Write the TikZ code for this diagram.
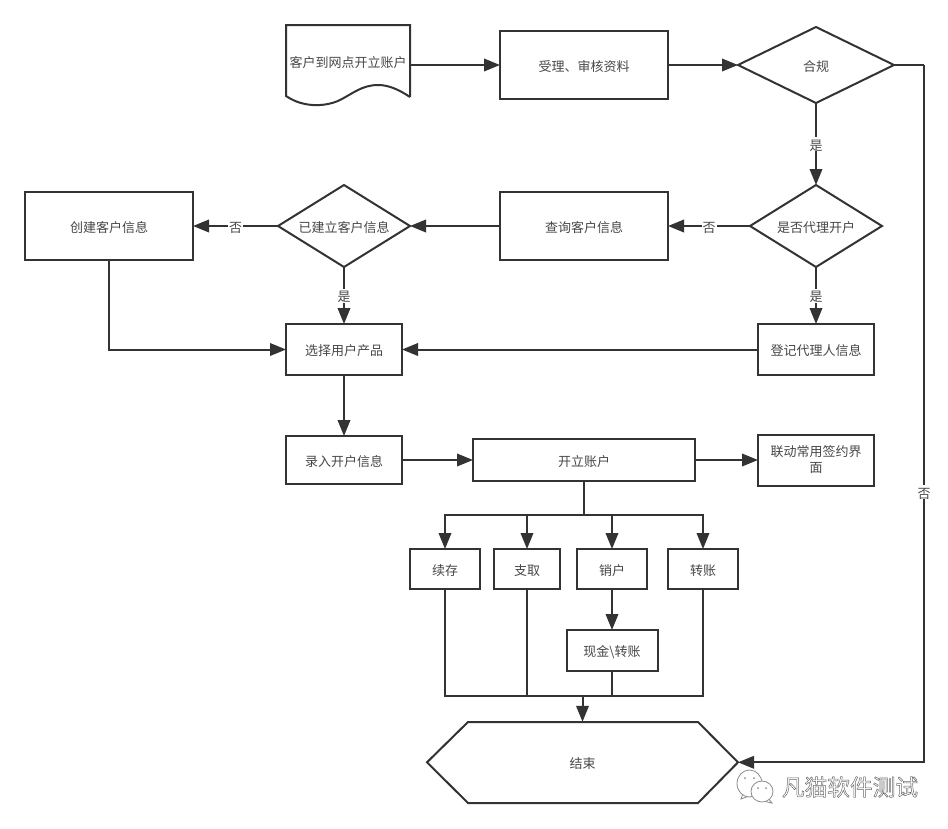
\documentclass[tikz,border=0pt]{standalone}
\usepackage{fontspec}
\setmainfont{Noto Sans CJK SC}
\usetikzlibrary{arrows.meta,shapes.geometric}
\definecolor{ink}{HTML}{333333}
\tikzset{
  x=1pt,y=-1pt,
  every node/.style={font=\fontsize{13}{16}\selectfont,text=ink!90!white,inner sep=0pt,outer sep=0pt},
  lift/.style={text height=12pt,text depth=0pt},
  boxnode/.style={draw=ink,line width=2pt,rectangle,align=center,lift},
  decision/.style={draw=ink,line width=2pt,diamond,aspect=1.7,lift},
  ghost/.style={rectangle,lift},
  flow/.style={draw=ink,line width=2pt,-{Triangle[length=16pt,width=12.5pt]}},
  plain/.style={draw=ink,line width=2pt},
  edgelabel/.style={fill=white,inner sep=1pt,lift},
  wm/.style={draw=black!45,line width=.8pt,fill=white}
}
\begin{document}
\begin{tikzpicture}
\useasboundingbox (0,0) rectangle (948,828);
\fill[white] (0,0) rectangle (948,828);
% document shape
\node[ghost,minimum width=124pt,minimum height=72pt] (doc) at (348,61) {客户到网点开立账户};
\draw[plain] (410,97) -- (410,25) -- (286,25) -- (286,96)
  .. controls (305,109) and (328,106) .. (340,100)
  .. controls (352,94) and (362,85) .. (378,85)
  .. controls (388,85) and (398,89) .. (410,97);
\node[boxnode,minimum width=168pt,minimum height=68pt] (recv) at (584,65) {受理、审核资料};
\node[decision,minimum width=156pt,minimum height=76pt] (ok) at (816,65) {合规};
\node[decision,minimum width=132pt,minimum height=82pt] (agent) at (816,226) {是否代理开户};
\node[boxnode,minimum width=168pt,minimum height=68pt] (query) at (584,226) {查询客户信息};
\node[decision,minimum width=132pt,minimum height=82pt] (built) at (344,226) {已建立客户信息};
\node[boxnode,minimum width=168pt,minimum height=68pt] (create) at (109,226) {创建客户信息};
\node[boxnode,minimum width=116pt,minimum height=51pt] (choose) at (344,349.5) {选择用户产品};
\node[boxnode,minimum width=116pt,minimum height=51pt] (reg) at (816,349.5) {登记代理人信息};
\node[boxnode,minimum width=116pt,minimum height=48pt] (input) at (344,460) {录入开户信息};
\node[boxnode,minimum width=222pt,minimum height=42pt] (open) at (584,460) {开立账户};
\node[draw=ink,line width=2pt,rectangle,align=center,minimum width=116pt,minimum height=51pt] (link) at (816,460) {\raisebox{-2pt}{联动常用签约界}\\\raisebox{-2pt}{面}};
\node[boxnode,minimum width=70pt,minimum height=40pt] (renew) at (445,569) {续存};
\node[boxnode,minimum width=66pt,minimum height=40pt] (draw) at (527,569) {支取};
\node[boxnode,minimum width=70pt,minimum height=40pt] (close) at (612,569) {销户};
\node[boxnode,minimum width=70pt,minimum height=40pt] (trans) at (703,569) {转账};
\node[boxnode,minimum width=91pt,minimum height=41pt] (cash) at (612,650.5) {现金\textbackslash 转账};
\node[ghost,minimum width=311pt,minimum height=81pt] (end) at (582.5,762.3) {结束};
\draw[plain] (427,762.3) -- (468,722) -- (698,722) -- (738,762.3) -- (698,803) -- (468,803) -- cycle;
% junctions
\coordinate (busTop) at (584,515);
\coordinate (busBot) at (582.5,696);
\coordinate (rightTop) at (924,65);
\coordinate (rightBot) at (924,762.3);
% connectors
\draw[flow] (doc.east|-recv.west) -- (recv.west);
\draw[flow] (recv.east) -- (ok.west);
\draw[flow] (ok.south) -- node[edgelabel]{是} (agent.north);
\draw[flow] (agent.west) -- node[edgelabel]{否} (query.east);
\draw[flow] (query.west) -- (built.east);
\draw[flow] (built.west) -- node[edgelabel]{否} (create.east);
\draw[flow] (built.south) -- node[edgelabel]{是} (choose.north);
\draw[flow] (agent.south) -- node[edgelabel]{是} (reg.north);
\draw[flow] (reg.west) -- (choose.east);
\draw[flow] (create.south) |- (choose.west);
\draw[flow] (choose.south) -- (input.north);
\draw[flow] (input.east) -- (open.west);
\draw[flow] (open.east) -- (link.west);
\draw[plain] (open.south) -- (busTop);
\draw[flow] (busTop) -| (renew.north);
\draw[flow] (busTop) -| (draw.north);
\draw[flow] (busTop) -| (close.north);
\draw[flow] (busTop) -| (trans.north);
\draw[flow] (close.south) -- (cash.north);
\draw[plain] (renew.south) |- (busBot);
\draw[plain] (draw.south) |- (busBot);
\draw[plain] (cash.south) |- (busBot);
\draw[plain] (trans.south) |- (busBot);
\draw[flow] (busBot) -- (end.north);
\draw[plain] (ok.east) -- (rightTop);
\draw[flow] (rightTop) -- node[edgelabel,pos=.613]{否} (rightBot) -- (end.east);
% watermark
\draw[wm] (743,793) -- (741,799) -- (749,796);
\draw[wm] (749.5,783.5) ellipse (12.5pt and 13.5pt);
\draw[wm] (768,798) -- (772,803) -- (763,801);
\draw[wm] (762,791.5) ellipse (11pt and 10.5pt);
\fill[black!45] (745,778) circle (1pt) (754,778) circle (1pt) (758,788) circle (1pt) (766,788) circle (1pt);
\node[font=\fontsize{22.7}{25}\selectfont] (mark) at (850,787) {\special{pdf:code q 1 Tr 0.5 w 0.42 G}凡猫软件测试\special{pdf:code Q}};
\end{tikzpicture}
\end{document}
